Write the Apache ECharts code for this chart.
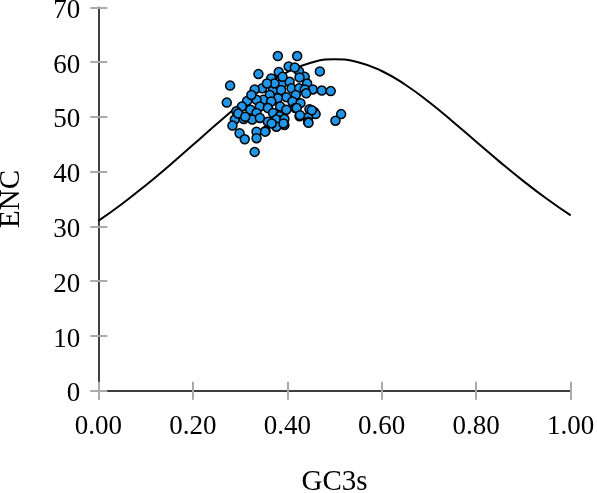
<!DOCTYPE html>
<html>
<head>
<meta charset="utf-8">
<script src="https://cdn.jsdelivr.net/npm/echarts@6/dist/echarts.min.js"></script>
<style>
html,body{margin:0;padding:0;background:#fff;}
#chart{width:597px;height:493px;}
</style>
</head>
<body>
<div id="chart"></div>
<script>
// Scatter: GC3s vs ENC for each gene
const gc3s = [0.380,0.421,0.339,0.403,0.382,0.469,0.425,0.416,0.279,0.272,0.437,0.366,0.390,0.405,0.442,0.347,0.331,0.370,0.387,0.409,0.425,0.454,0.473,0.492,0.437,0.418,0.398,0.380,0.363,0.349,0.335,0.315,0.324,0.366,0.411,0.428,0.304,0.322,0.342,0.359,0.385,0.398,0.417,0.292,0.335,0.370,0.384,0.426,0.447,0.457,0.460,0.444,0.514,0.502,0.289,0.308,0.326,0.366,0.377,0.394,0.444,0.284,0.359,0.394,0.299,0.310,0.335,0.354,0.335,0.331,0.373,0.357,0.426,0.390,0.440,0.342,0.377,0.296,0.311,0.353,0.367,0.392,0.420,0.427,0.445,0.452];
const enc   = [61.1,61.1,57.8,59.2,58.2,58.3,58.3,59.0,55.7,52.6,57.3,57.0,56.2,56.4,56.1,55.2,55.0,54.9,54.9,55.2,55.2,55.0,54.8,54.7,55.0,54.0,53.6,53.4,54.0,53.1,53.1,52.9,54.0,52.8,52.8,52.5,51.9,51.3,51.9,51.6,51.9,51.3,51.6,51.0,50.7,50.7,50.1,50.1,51.4,50.9,50.5,49.9,50.5,49.3,49.5,49.6,49.5,49.1,49.5,49.6,49.1,48.4,49.1,48.5,47.0,45.9,47.3,47.4,46.1,43.6,56.1,56.1,57.2,57.3,54.3,49.8,48.2,50.6,50.0,47.3,48.8,48.8,51.6,50.3,48.9,51.2];

// Expected ENC curve
const curveX = [0,0.05,0.10,0.15,0.20,0.25,0.30,0.35,0.40,0.45,0.50,0.55,0.60,0.65,0.70,0.75,0.80,0.85,0.90,0.95,1.00];
const curveY = [31.0,34.09,37.47,41.08,44.85,48.65,52.30,55.56,58.17,59.88,60.5,59.98,58.37,55.86,52.7,49.15,45.45,41.78,38.27,34.99,32.0];

const xTicks = [0,0.2,0.4,0.6,0.8,1.0];
const yTicks = [0,10,20,30,40,50,60,70];

const FONT = "'Liberation Serif','Times New Roman',serif";
const chart = echarts.init(document.getElementById('chart'));

const scatterData = gc3s.map((x,i)=>[x, enc[i]]);
const curveData = curveX.map((x,i)=>[x, curveY[i]]);

const tickStyle = {color:'#aaaaaa', width:2};

chart.setOption({
  animation:false,
  backgroundColor:'#fff',
  grid:{left:98.3, right:26.3, top:7.3, bottom:102.3, containLabel:false, outerBoundsMode:'none'},
  xAxis:[{
    type:'value', min:xTicks[0], max:xTicks[xTicks.length-1], interval:0.2, position:'bottom',
    name:'GC3s', nameLocation:'middle', nameGap:77,
    nameTextStyle:{fontFamily:FONT, fontSize:29, color:'#000'},
    axisLine:{show:true, onZero:false, lineStyle:{color:'#000', width:1.5}},
    axisTick:{show:true, inside:false, length:9, lineStyle:tickStyle},
    axisLabel:{fontFamily:FONT, fontSize:27, color:'#000', margin:23, formatter:v=>v.toFixed(2)},
    splitLine:{show:false}
  },{
    type:'value', min:xTicks[0], max:xTicks[xTicks.length-1], interval:0.2, position:'bottom',
    axisLine:{show:false, onZero:false},
    axisTick:{show:true, inside:true, length:9, lineStyle:tickStyle},
    axisLabel:{show:false}, splitLine:{show:false}
  }],
  yAxis:[{
    type:'value', min:yTicks[0], max:yTicks[yTicks.length-1], interval:10, position:'left',
    name:'ENC', nameLocation:'middle', nameGap:72, nameRotate:90,
    nameTextStyle:{fontFamily:FONT, fontSize:29, color:'#000'},
    axisLine:{show:true, onZero:false, lineStyle:{color:'#000', width:1.5}},
    axisTick:{show:true, inside:false, length:8, lineStyle:tickStyle},
    axisLabel:{fontFamily:FONT, fontSize:27, color:'#000', margin:18, verticalAlign:'top', lineHeight:7},
    splitLine:{show:false}
  },{
    type:'value', min:yTicks[0], max:yTicks[yTicks.length-1], interval:10, position:'left',
    axisLine:{show:false, onZero:false},
    axisTick:{show:true, inside:true, length:9, lineStyle:tickStyle},
    axisLabel:{show:false}, splitLine:{show:false}
  }],
  series:[{
    type:'line', data:curveData, smooth:true, showSymbol:false, symbol:'none',
    xAxisIndex:0, yAxisIndex:0,
    lineStyle:{color:'#000', width:2}, z:2
  },{
    type:'scatter', data:scatterData, symbol:'circle', symbolSize:9,
    xAxisIndex:0, yAxisIndex:0,
    itemStyle:{color:'#2196e8', borderColor:'#000', borderWidth:1.5, opacity:1}, z:3
  }]
});
</script>
</body>
</html>
